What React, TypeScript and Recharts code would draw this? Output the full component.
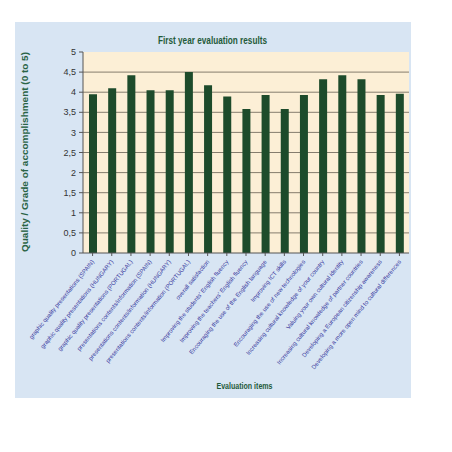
import React from 'react';
import { BarChart, Bar, XAxis, YAxis, CartesianGrid } from 'recharts';

const categories = [
  'graphic quality presentations (SPAIN)',
  'graphic quality presentations (HUNGARY)',
  'graphic quality presentations (PORTUGAL)',
  'presentations  contents/information (SPAIN)',
  'presentations contents/information (HUNGARY)',
  'presentations  contents/information (PORTUGAL)',
  'overall satisfaction',
  "Improving the students' English fluency",
  "Improving the teachers' English fluency",
  'Encouraging the use of the English language',
  'Improving ICT skills',
  'Encouraging the use of new technologies',
  'Increasing cultural knowledge of your country',
  'Valuing your own cultural identity',
  'Increasing cultural  knowledge of partner countries',
  'Developing a European citizenship awareness',
  'Developing a more open mind to cultural differences',
];

const scores = [3.95, 4.1, 4.42, 4.05, 4.05, 4.5, 4.17, 3.89, 3.58, 3.93, 3.58, 3.93, 4.32, 4.42, 4.32, 3.93, 3.96];

const yTicks = [0, 0.5, 1, 1.5, 2, 2.5, 3, 3.5, 4, 4.5, 5];
const gridValues = [0.5, 1, 1.5, 2, 2.5, 3, 3.5, 4, 4.5];

const data = categories.map((item, i) => ({ item, score: scores[i] }));

const XTick = (props: any) => {
  const { x, y, payload } = props;
  const ax = x + 2;
  const ay = y + 4;
  return (
    <text
      x={ax}
      y={ay}
      transform={`rotate(-51, ${ax}, ${ay})`}
      textAnchor="end"
      fontSize={6}
      fill="#35359c"
      fontFamily="Liberation Sans, Arial, sans-serif"
    >
      {payload.value}
    </text>
  );
};

export default function App() {
  return (
    <div style={{ position: 'absolute', left: 0, top: 0, width: 452, height: 452, background: '#ffffff' }}>
      <svg width={452} height={452} style={{ position: 'absolute', left: 0, top: 0 }}>
        <rect x={15} y={22} width={396} height={376} fill="#d8e5f3" />
        <text
          x={212.5}
          y={44}
          textAnchor="middle"
          fontSize={11}
          fontWeight="bold"
          fill="#1f5a3a"
          fontFamily="Liberation Sans, Arial, sans-serif"
          textLength={109}
          lengthAdjust="spacingAndGlyphs"
        >
          First year evaluation results
        </text>
        <text
          x={28}
          y={152}
          transform="rotate(-90, 28, 152)"
          textAnchor="middle"
          fontSize={8.5}
          fontWeight="bold"
          fill="#2a6446"
          fontFamily="Liberation Sans, Arial, sans-serif"
          textLength={200}
          lengthAdjust="spacingAndGlyphs"
        >
          Quality / Grade of accomplishment (0 to 5)
        </text>
        <text
          x={244.5}
          y={389}
          textAnchor="middle"
          fontSize={9.5}
          fontWeight="bold"
          fill="#1f5a3a"
          fontFamily="Liberation Sans, Arial, sans-serif"
          textLength={56}
          lengthAdjust="spacingAndGlyphs"
        >
          Evaluation items
        </text>
      </svg>
      <div style={{ position: 'absolute', left: 0, top: 0 }}>
        <BarChart
          width={452}
          height={452}
          data={data}
          margin={{ top: 52, right: 43, left: 0, bottom: 0 }}
        >
          <CartesianGrid
            vertical={false}
            horizontalValues={gridValues}
            stroke="#857d6e"
            fill="#fcefd6"
            fillOpacity={1}
          />
          <XAxis
            dataKey="item"
            height={199}
            interval={0}
            tick={<XTick />}
            tickSize={3}
            axisLine={{ stroke: '#555555' }}
            tickLine={{ stroke: '#555555' }}
          />
          <YAxis
            width={83}
            domain={[0, 5]}
            ticks={yTicks}
            interval={0}
            tickFormatter={(v: number) => String(v).replace('.', ',')}
            tickSize={4}
            tickMargin={3}
            axisLine={{ stroke: '#555555' }}
            tickLine={{ stroke: '#555555' }}
            tick={{ fontSize: 9, fill: '#333333', fontFamily: 'Liberation Sans, Arial, sans-serif' }}
          />
          <Bar dataKey="score" fill="#1d4b2b" barSize={8} isAnimationActive={false} />
        </BarChart>
      </div>
    </div>
  );
}
